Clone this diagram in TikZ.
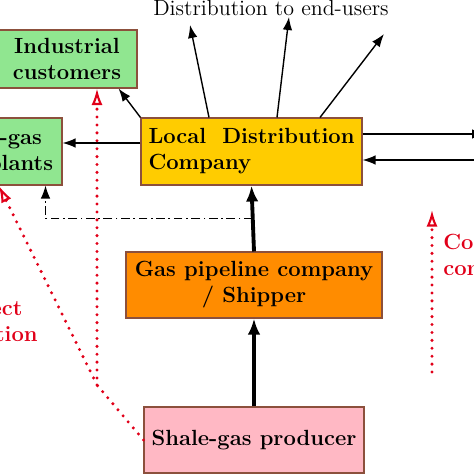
\documentclass[tikz,border=0pt]{standalone}
\usetikzlibrary{arrows.meta,calc}
\definecolor{boxgreen}{RGB}{144,230,144}
\definecolor{boxgold}{RGB}{255,204,0}
\definecolor{boxorange}{RGB}{255,140,0}
\definecolor{boxpink}{RGB}{255,184,196}
\definecolor{boxedge}{RGB}{140,80,60}
\definecolor{linkred}{RGB}{225,0,25}
\newcommand{\boxfont}{\fontsize{12.5}{14.8}\selectfont}
\tikzset{
  actor/.style={draw=boxedge,line width=0.6pt,font=\boxfont\bfseries,align=center,inner sep=0pt},
  flow/.style={line width=0.8pt,-{Latex[length=2.6mm,width=1.9mm]}},
  mainflow/.style={line width=2.2pt,-{Latex[length=3.2mm,width=2.5mm]}},
  redlink/.style={linkred,line width=1.9pt,dash pattern=on 0pt off 4.5pt,line cap=round,
                  -{Latex[open,length=3.3mm,width=2.2mm,line width=1.2pt]}},
  redlabel/.style={linkred,font=\boxfont\bfseries,align=center,inner sep=0pt}
}
\begin{document}
\begin{tikzpicture}[x=0.02cm,y=-0.02cm]%  pixel units
  \useasboundingbox (0,0) rectangle (474,474);
  \clip (0,0) rectangle (474,474);

  \node[actor,fill=boxgreen,minimum width=2.8cm,minimum height=1.16cm] (ind) at (67,59) {Industrial\\customers};
  \node[actor,fill=boxgreen,minimum width=2.8cm,minimum height=1.34cm] (plants) at (-8,151.5) {Shale-gas\\fired plants};
  \node[actor,fill=boxgold,minimum width=4.42cm,minimum height=1.34cm,text width=4.12cm,align=left] (ldc) at (251.5,151.5) {Local\hfill Distribution\\Company};
  \node[actor,fill=boxorange,minimum width=5.12cm,minimum height=1.32cm] (pipe) at (254,285) {Gas pipeline company\\/ Shipper};
  \node[actor,fill=boxpink,minimum width=4.4cm,minimum height=1.32cm] (shale) at (254,440) {Shale-gas producer};

  \node[font=\boxfont] (users) at (271,8) {Distribution to end-users};
  \node[redlabel,anchor=east] (indirect) at (38,321) {Indirect\\connection};
  \node[redlabel,anchor=west,align=left] (conv) at (443,255) {Conventional\\connection};

  % physical gas flow
  \draw[mainflow] (shale.north) -- (pipe.south);
  \draw[mainflow] (pipe.north) -- (ldc.south);
  \coordinate (branch) at ($(pipe.north)!0.5!(ldc.south)$);
  \draw[line width=0.6pt,dash pattern=on 5pt off 2pt on 1pt off 2pt,-{Latex[length=2.6mm,width=1.9mm]}]
    (branch) -| ([xshift=-0.34cm]plants.south east);

  % LDC outputs
  \coordinate (u1) at (190,25); \coordinate (u2) at (289,17); \coordinate (u3) at (384,34);
  \draw[flow] ([xshift=-0.85cm]ldc.north) -- (u1);
  \draw[flow] ([xshift=0.51cm]ldc.north) -- (u2);
  \draw[flow] ([xshift=1.37cm]ldc.north) -- (u3);
  \draw[flow] (ldc.north west) -- ([xshift=-0.38cm]ind.south east);
  \draw[flow] ([yshift=0.17cm]ldc.west) -- ([yshift=0.17cm]ldc.west -| plants.east);
  \coordinate (out) at (485,134); \coordinate (in) at (482,160);
  \draw[flow] (ldc.east |- out) -- (out);
  \draw[flow] (in) -- (ldc.east |- in);

  % red dotted links
  \coordinate (j) at (97,385); \coordinate (pl) at (-1,186);
  \draw[redlink] (shale.west) -- (j) -- (j |- ind.south);
  \draw[redlink] (j) -- (pl);
  \coordinate (c1) at (432,372); \coordinate (c2) at (432,210);
  \draw[redlink] (c1) -- (c2);
\end{tikzpicture}
\end{document}
